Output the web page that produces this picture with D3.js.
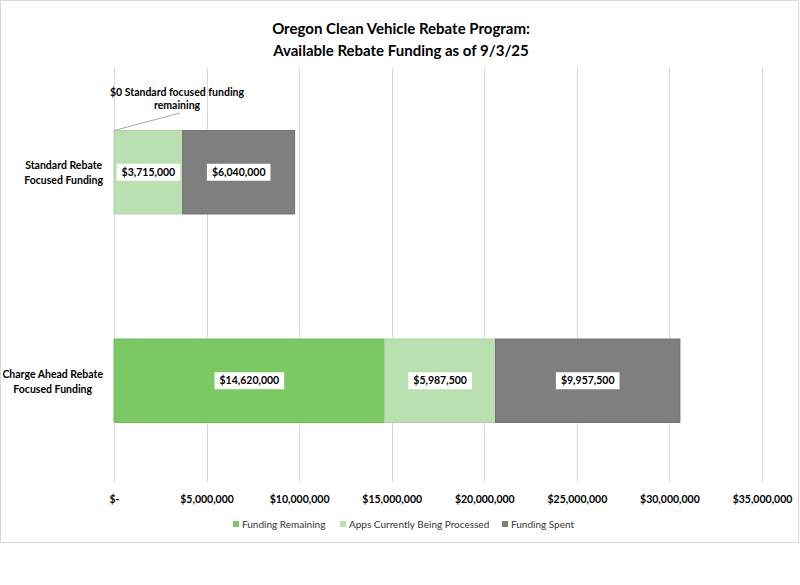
<!DOCTYPE html>
<html>
<head>
<meta charset="utf-8">
<script src="https://cdn.jsdelivr.net/npm/d3@7"></script>
<style>
  body { margin: 0; background: #fff; }
  text { font-family: Lato, "Open Sans", sans-serif; }
</style>
</head>
<body>
<div id="chart"></div>
<script>
var categories = ["Standard Rebate|Focused Funding", "Charge Ahead Rebate|Focused Funding"];
var seriesNames = ["Funding Remaining", "Apps Currently Being Processed", "Funding Spent"];
var remaining = [0, 14620000];
var processing = [3715000, 5987500];
var spent = [6040000, 9957500];
var tickValues = [0, 5000000, 10000000, 15000000, 20000000, 25000000, 30000000, 35000000];
var colors = ["#7ac963", "#badfb0", "#7f7f7f"];
var strokes = ["#6bbf53", "#acd6a0", "#6f6f6f"];

var W = 800, H = 585,
    margin = {top: 68, right: 38, bottom: 103, left: 114};

var svg = d3.select("#chart").append("svg")
  .attr("width", W)
  .attr("height", H);

svg.append("rect")
  .attr("x", 0.5).attr("y", 0.5)
  .attr("width", W - 2).attr("height", 542)
  .attr("fill", "#fff")
  .attr("stroke", "#d9d9d9");

var x = d3.scaleLinear()
  .domain([0, 35000000])
  .range([margin.left, W - margin.right]);

var y = d3.scaleBand()
  .domain(categories)
  .range([margin.top, 485])
  .paddingInner(0.6)
  .paddingOuter(0.3);

// grid
svg.selectAll("line.grid")
  .data(tickValues)
  .enter().append("line")
    .attr("class", "grid")
    .attr("x1", function(d) { return Math.round(x(d)) + 0.5; })
    .attr("x2", function(d) { return Math.round(x(d)) + 0.5; })
    .attr("y1", margin.top)
    .attr("y2", H - margin.bottom)
    .attr("stroke", "#d9d9d9")
    .attr("stroke-width", 1);

var fmt = d3.format("$,");
function tickFmt(d) { return d === 0 ? "$-" : d3.format("$,")(d); }

// axis labels
var xAxis = d3.axisBottom(x).tickValues(tickValues).tickFormat(tickFmt).tickSize(0).tickPadding(0);
var ax = svg.append("g")
  .attr("transform", "translate(0," + 496 + ")")
  .call(xAxis);
ax.select(".domain").remove();
ax.selectAll("text")
  .attr("font-family", "Lato, sans-serif")
  .attr("font-size", "10.5px")
  .attr("font-weight", "bold")
  .attr("fill", "#000");

// stacked data
var rows = categories.map(function(c, i) {
  return {cat: c, values: [remaining[i], processing[i], spent[i]]};
});
var segs = [];
rows.forEach(function(r) {
  var acc = 0;
  r.values.forEach(function(v, j) {
    segs.push({cat: r.cat, s: j, x0: acc, x1: acc + v, v: v});
    acc += v;
  });
});

svg.selectAll("rect.bar")
  .data(segs.filter(function(d) { return d.v > 0; }))
  .enter().append("rect")
    .attr("class", "bar")
    .attr("x", function(d) { return x(d.x0); })
    .attr("width", function(d) { return x(d.x1) - x(d.x0); })
    .attr("y", function(d) { return y(d.cat); })
    .attr("height", y.bandwidth())
    .attr("fill", function(d) { return colors[d.s]; })
    .attr("stroke", function(d) { return strokes[d.s]; })
    .attr("stroke-width", 1);

// data labels
var lab = svg.selectAll("g.lab")
  .data(segs.filter(function(d) { return d.v > 0; }))
  .enter().append("g")
    .attr("class", "lab")
    .attr("transform", function(d) {
      return "translate(" + ((x(d.x0) + x(d.x1)) / 2) + "," + (y(d.cat) + y.bandwidth() / 2) + ")";
    });
lab.append("rect").attr("fill", "#fff");
lab.append("text")
  .attr("text-anchor", "middle")
  .attr("dy", "0.35em")
  .attr("font-size", "10.5px")
  .attr("font-weight", "bold")
  .attr("fill", "#000")
  .text(function(d) { return fmt(d.v); });
lab.each(function() {
  var g = d3.select(this);
  var w = g.select("text").node().getComputedTextLength();
  g.select("rect")
    .attr("x", -w / 2 - 5).attr("y", -8.5)
    .attr("width", w + 10).attr("height", 17);
});

// category labels
categories.forEach(function(c) {
  var lines = c.split("|");
  var t = svg.append("text")
    .attr("font-size", "10.5px")
    .attr("font-weight", "bold")
    .attr("fill", "#000")
    .attr("text-anchor", "middle");
  lines.forEach(function(l, i) {
    t.append("tspan").attr("dy", i === 0 ? 0 : "1.45em").text(l);
  });
  var maxW = 0;
  t.selectAll("tspan").each(function() { maxW = Math.max(maxW, this.getComputedTextLength()); });
  var cx = 103 - maxW / 2;
  var cy = y(c) + y.bandwidth() / 2 - 3;
  t.attr("x", cx).attr("y", cy);
  t.selectAll("tspan").attr("x", cx);
});

// annotation
var first = y(categories[0]);
svg.append("line")
  .attr("x1", x(0)).attr("y1", first)
  .attr("x2", 180).attr("y2", 113)
  .attr("stroke", "#a6a6a6").attr("stroke-width", 1);
svg.append("text")
  .attr("x", 177).attr("y", 96)
  .attr("text-anchor", "middle")
  .attr("font-size", "10.5px").attr("font-weight", "bold")
  .text("$0 Standard focused funding");
svg.append("text")
  .attr("x", 177).attr("y", 109)
  .attr("text-anchor", "middle")
  .attr("font-size", "10.5px").attr("font-weight", "bold")
  .text("remaining");

// title
svg.append("text")
  .attr("x", 401).attr("y", 34)
  .attr("text-anchor", "middle")
  .attr("font-size", "15px").attr("font-weight", "bold")
  .text("Oregon Clean Vehicle Rebate Program:");
svg.append("text")
  .attr("x", 401).attr("y", 56)
  .attr("text-anchor", "middle")
  .attr("font-size", "15px").attr("font-weight", "bold")
  .text("Available Rebate Funding as of 9/3/25");

// legend
var legX = [233, 340, 502];
var leg = svg.selectAll("g.leg")
  .data(seriesNames)
  .enter().append("g")
    .attr("class", "leg")
    .attr("transform", function(d, i) { return "translate(" + legX[i] + ",525)"; });
leg.append("rect")
  .attr("x", 0).attr("y", -4).attr("width", 6).attr("height", 6)
  .attr("fill", function(d, i) { return colors[i]; });
leg.append("text")
  .attr("x", 9).attr("dy", "0.3em")
  .attr("font-size", "10px")
  .attr("fill", "#333")
  .text(function(d) { return d; });
</script>
</body>
</html>
